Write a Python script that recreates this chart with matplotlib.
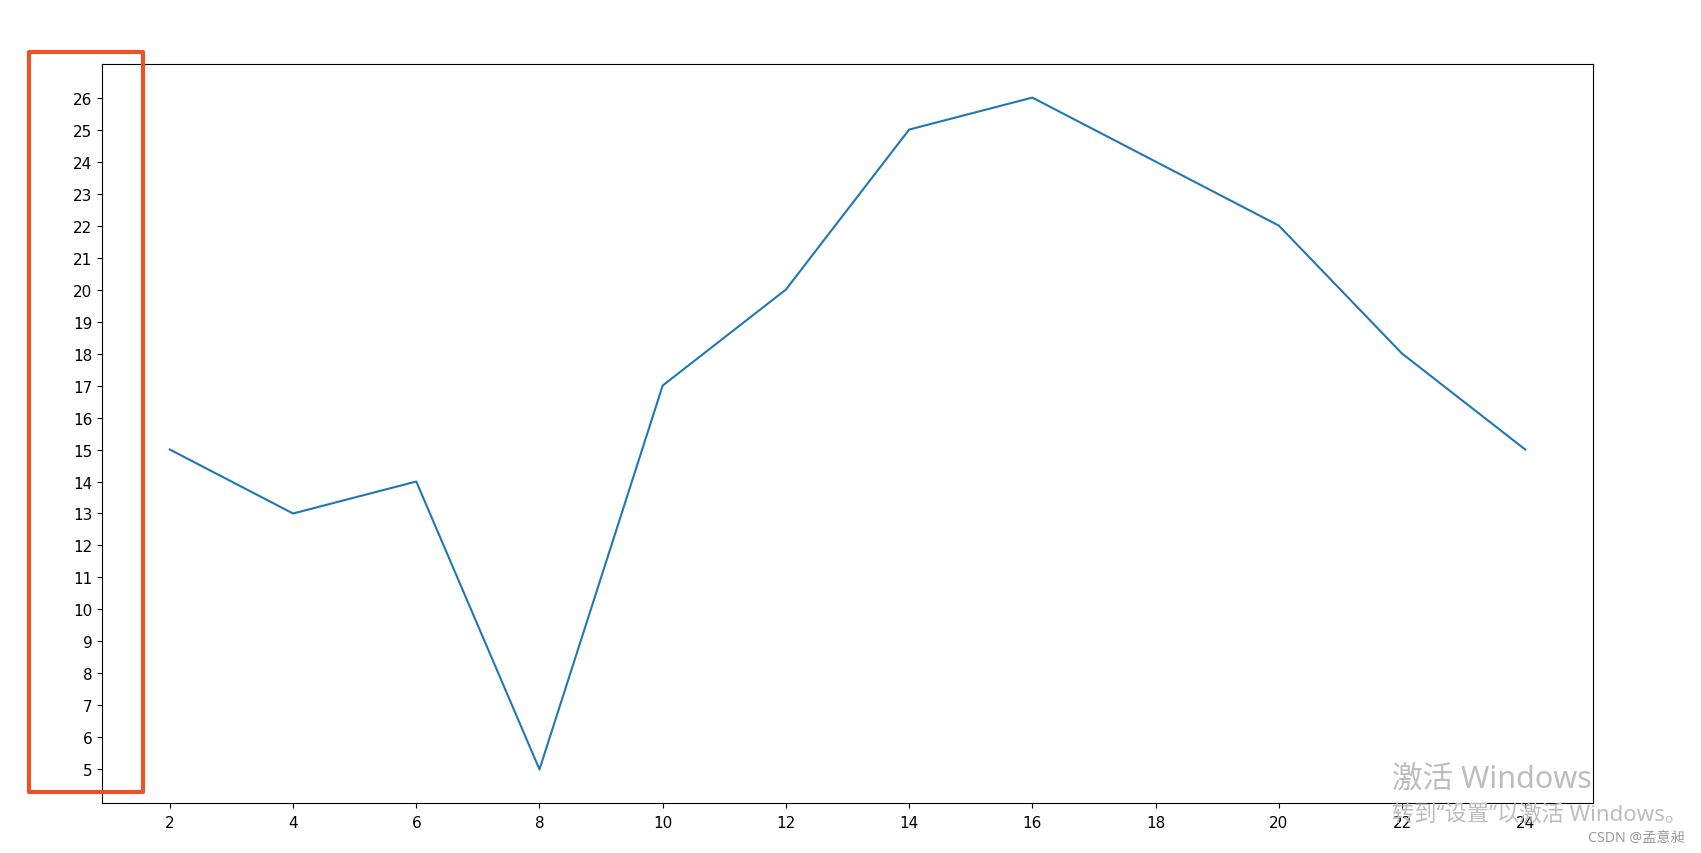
import matplotlib.pyplot as plt
from matplotlib.patches import Rectangle

# data
hours = [2, 4, 6, 8, 10, 12, 14, 16, 18, 20, 22, 24]
temps = [15, 13, 14, 5, 17, 20, 25, 26, 24, 22, 18, 15]
x_ticks = list(range(2, 25, 2))
y_ticks = list(range(5, 27))

fig = plt.figure(figsize=(17.01, 8.54), dpi=100)
ax = fig.add_axes([0.060, 0.0585, 0.8765, 0.8654])
ax.plot(hours, temps, color="#1f77b4", linewidth=1.5)
ax.set_xticks(x_ticks)
ax.set_yticks(y_ticks)
ax.tick_params(labelsize=11)
ax.tick_params(axis="x", pad=5)

# red highlight box drawn over the y axis in the screenshot
box = Rectangle((29 / 1701, 1 - 793 / 854), (143 - 29) / 1701, (793 - 53) / 854,
                transform=fig.transFigure, fill=False, edgecolor="#EA5328",
                linewidth=3, joinstyle="round", zorder=10)
fig.patches.append(box)

# watermarks
wm = ["Noto Sans", "Noto Sans CJK SC", "DejaVu Sans"]
fig.text(1392 / 1701, 1 - 781 / 854, "激活 Windows", family=wm, fontsize=22,
         color="#BDBDBD", ha="left", va="center", zorder=11)
fig.text(1392 / 1701, 1 - 815 / 854, "转到“设置”以激活 Windows。", family=wm, fontsize=16,
         color="#BDBDBD", ha="left", va="center", zorder=11)
fig.text(1685 / 1701, 1 - 838 / 854, "CSDN @孟意昶", family=wm, fontsize=10.2,
         color="#9a9a9a", ha="right", va="center", zorder=11)

fig.savefig("out.png", dpi=100)
